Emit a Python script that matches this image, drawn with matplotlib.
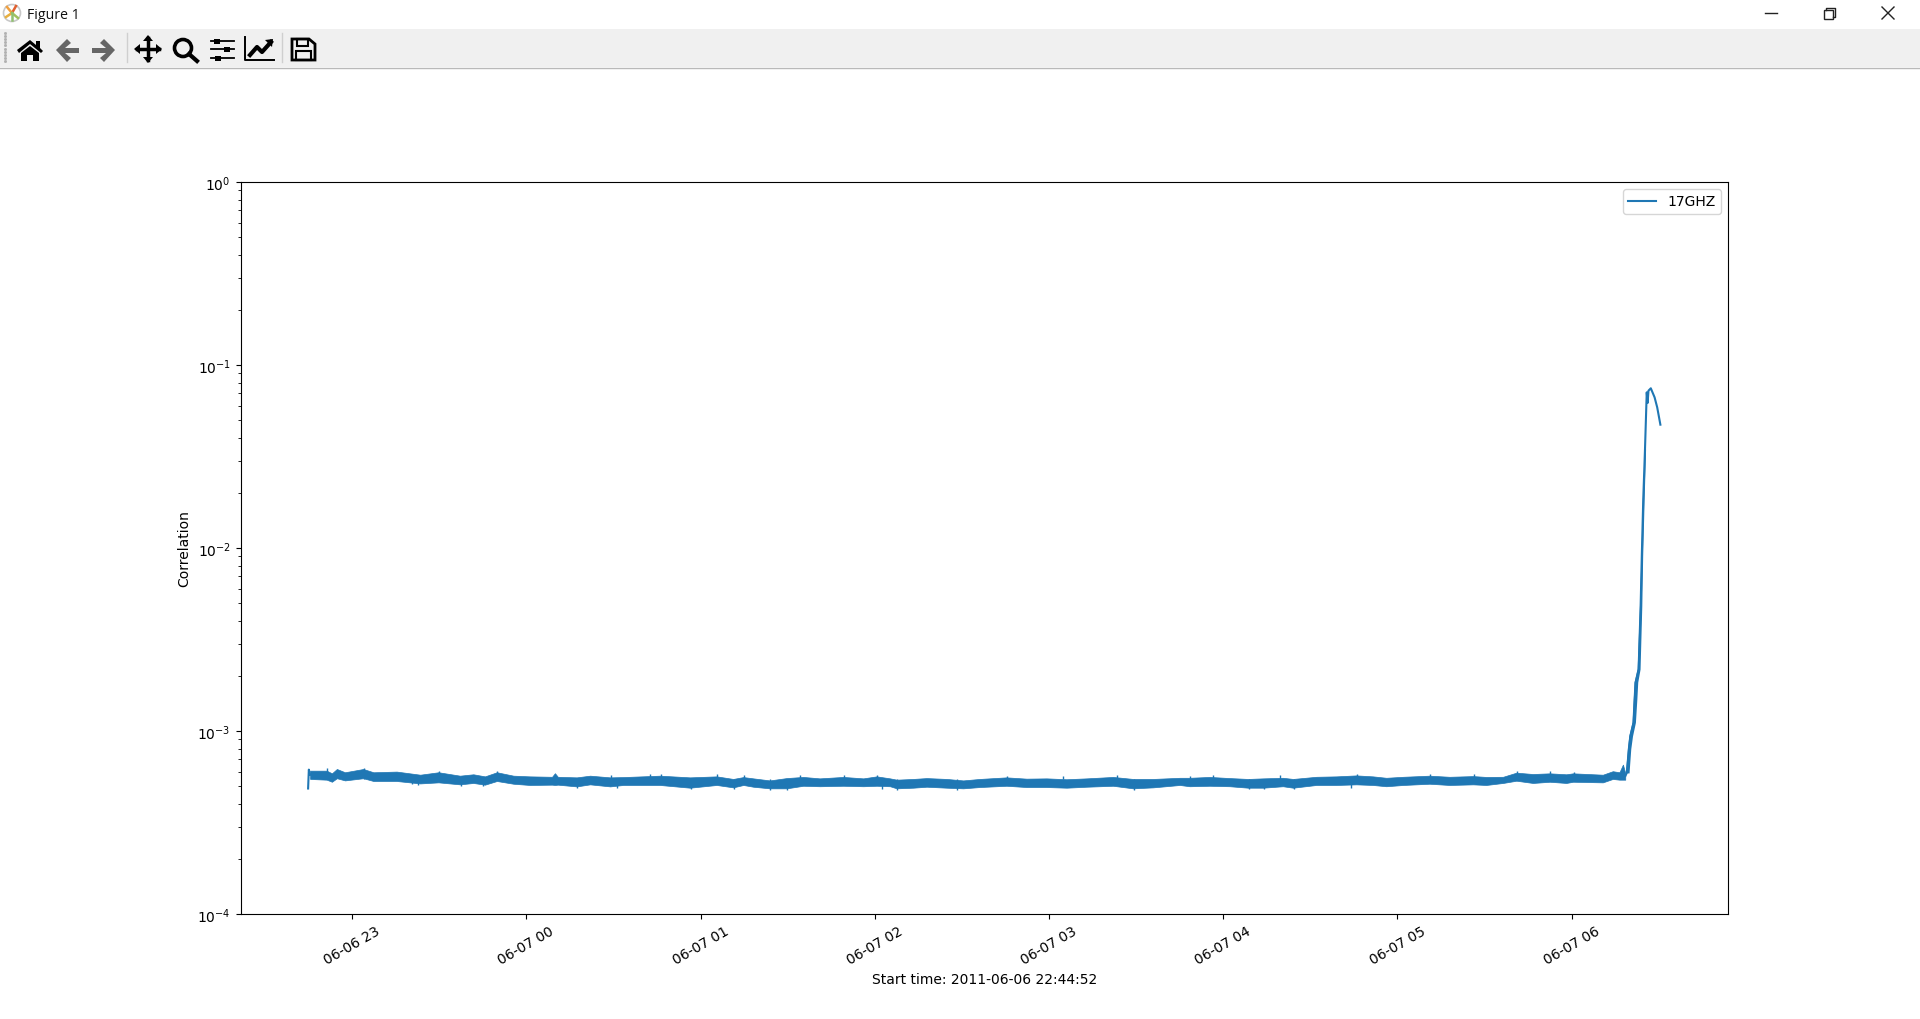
import numpy as np
import pandas as pd
import matplotlib
matplotlib.use('Agg')
import matplotlib.pyplot as plt
import matplotlib.dates as mdates
from matplotlib.patches import Polygon, Rectangle, Circle

start_time = pd.Timestamp('2011-06-06 22:44:52')

# flat part: minutes after start, upper and lower edge of the noisy band (x 1e-4)
band_min = [0.7, 6.4, 8.2, 9.9, 12.7, 19.0, 22.5, 30.5, 38.6, 44.9, 52.3, 56.9, 60.9, 65.0, 70.7,
            76.4, 84.0, 85.0, 86.0, 92.5, 97.1, 104.0, 108.5, 121.2, 131.5, 140.7,
            146.4, 149.9, 153.3, 159.0, 164.8, 170.5, 176.2, 184.3, 191.2, 195.8, 200.4,
            202.7, 208.4, 213.0, 219.9, 225.6, 231.3, 240.5, 247.4, 254.3, 261.2, 268.1,
            277.2, 284.1, 291.0, 300.2, 303.6, 310.5, 317.4, 323.7, 328.9, 335.7, 339.2,
            347.2, 354.1, 361.0, 366.7, 371.3, 377.1, 386.2, 393.1, 401.2, 405.7, 411.5,
            416.1, 421.8, 427.6, 433.3, 435.6, 445.9, 449.3, 451.6, 452.8, 453.6]
band_hi = [6.07, 6.07, 5.87, 6.20, 5.95, 6.20, 5.95, 6.00, 5.77, 5.95, 5.70, 5.80, 5.65, 5.95, 5.70,
           5.65, 5.62, 5.88, 5.62, 5.58, 5.70, 5.58, 5.60, 5.70, 5.58, 5.65,
           5.47, 5.60, 5.51, 5.37, 5.53, 5.61, 5.51, 5.61, 5.51, 5.65, 5.51,
           5.42, 5.47, 5.53, 5.47, 5.37, 5.47, 5.58, 5.49, 5.51, 5.45, 5.51,
           5.61, 5.47, 5.47, 5.55, 5.55, 5.61, 5.53, 5.47, 5.51, 5.55, 5.47,
           5.62, 5.65, 5.72, 5.65, 5.55, 5.62, 5.70, 5.62, 5.67, 5.61, 5.62,
           5.92, 5.82, 5.87, 5.80, 5.87, 5.77, 6.03, 5.95, 6.55, 5.90]
band_lo = [5.47, 5.42, 5.28, 5.52, 5.37, 5.52, 5.33, 5.33, 5.17, 5.24, 5.11, 5.20, 5.09, 5.33, 5.15,
           5.07, 5.09, 5.07, 5.09, 4.98, 5.11, 4.98, 5.07, 5.07, 4.90, 5.07,
           4.92, 5.07, 4.96, 4.86, 4.86, 5.02, 4.99, 5.02, 4.99, 5.02, 4.99,
           4.86, 4.90, 4.96, 4.90, 4.86, 4.94, 5.02, 4.94, 4.94, 4.90, 4.96,
           5.02, 4.86, 4.92, 5.07, 4.99, 5.02, 4.99, 4.90, 4.90, 4.99, 4.90,
           5.07, 5.07, 5.11, 5.07, 4.99, 5.07, 5.15, 5.07, 5.11, 5.07, 5.20,
           5.35, 5.20, 5.28, 5.20, 5.28, 5.24, 5.47, 5.42, 5.42, 5.42]

# small excursions sticking out of the band (x 1e-4)
spike_min = [6.6, 19.2, 35.7, 38.0, 45.1, 52.5, 60.3, 65.2, 92.7, 104.2, 106.3, 117.7, 121.4, 131.7, 140.9,
             146.6, 150.1, 159.2, 165.0, 169.4, 184.5, 196.0, 197.5, 202.9, 223.3, 240.7, 260.0, 278.4, 284.3,
             303.8, 311.6, 323.9, 329.1, 334.6, 339.4, 359.3, 361.2, 386.4, 401.4, 416.3, 427.8, 435.8]
spike_val = [6.25, 6.30, 5.12, 5.10, 6.08, 5.02, 5.02, 6.08, 4.89, 5.78, 4.91, 5.83, 5.83, 4.81, 5.83,
             4.81, 5.73, 4.77, 4.77, 5.72, 5.73, 5.78, 4.85, 4.77, 4.77, 5.70, 5.66, 5.73, 4.77,
             5.70, 5.73, 4.85, 4.81, 5.73, 4.81, 4.91, 5.85, 5.85, 5.83, 6.05, 6.03, 6.00]

# start of the trace and the rise at the end
head_min = [0.0, 0.25]
head_val = [4.85e-4, 6.15e-4]
rise_min = [454.2, 454.9, 455.4, 456.5, 457.2, 458.2, 458.9, 459.3, 459.8, 460.4, 461.0, 461.3, 461.6,
            462.4, 463.7, 464.6, 465.7]
rise_val = [5.94e-4, 7.97e-4, 9.42e-4, 1.115e-3, 1.845e-3, 2.18e-3, 4.84e-3, 9.08e-3, 1.85e-2, 3.47e-2,
            7.09e-2, 6.2e-2, 7.24e-2, 7.46e-2, 6.66e-2, 5.87e-2, 4.72e-2]

# left and right edge of the trace on the rise
edge_val = [5.9e-4, 8e-4, 9.4e-4, 1.115e-3, 1.5e-3, 1.85e-3, 2.18e-3, 4.84e-3, 9.08e-3, 1.85e-2, 3.47e-2]
edge_left = [453.6, 454.3, 454.8, 455.9, 456.3, 456.6, 457.7, 458.5, 459.0, 459.5, 460.2]
edge_right = [454.9, 455.5, 456.1, 457.1, 457.6, 457.9, 458.7, 459.3, 459.6, 460.1, 460.6]

tick_fmt = '%m-%d %H'
series_name = '17GHZ'
x_label = 'Start time: 2011-06-06 22:44:52'
y_label = 'Correlation'
line_color = '#1f77b4'


def to_time(minutes):
    return start_time + pd.to_timedelta(np.array(minutes, dtype=float), unit='min')


fig = plt.figure(figsize=(19.2, 10.2), dpi=100)
ax = fig.add_axes([240.5 / 1920, 105 / 1020, 1487.5 / 1920, 732 / 1020])

hi = np.array(band_hi) * 1e-4
lo = np.array(band_lo) * 1e-4
mid = np.sqrt(hi * lo)

line_min = np.concatenate([head_min, band_min, rise_min])
line_val = np.concatenate([head_val, mid, rise_val])

ax.plot(to_time(line_min), line_val, color=line_color, label=series_name)
ax.fill_between(to_time(band_min), lo, hi, color=line_color, lw=0.5)
ax.fill_betweenx(edge_val, to_time(edge_left), to_time(edge_right), color=line_color, lw=0)
# ticks from the middle of the band out to each excursion
ax.vlines(to_time(spike_min), 5.45e-4, np.array(spike_val) * 1e-4, color=line_color, lw=1.0)

ax.set_yscale('log')
ax.set_ylim(1e-4, 1)
ax.xaxis.set_major_locator(mdates.HourLocator())
ax.xaxis.set_major_formatter(mdates.DateFormatter(tick_fmt))
ax.tick_params(axis='x', labelrotation=30)
ax.set_xlabel(x_label)
ax.set_ylabel(y_label)
ax.legend(loc='upper right')

# window title bar and toolbar, drawn in pixel coordinates
ui = fig.add_axes([0, 0, 1, 1], facecolor='none')
ui.set_xlim(0, 1920)
ui.set_ylim(1020, 0)
ui.axis('off')

ui.add_patch(Rectangle((0, 30), 1920, 38, color='#f0f0f0', lw=0))
ui.plot([0, 1920], [68.5, 68.5], color='#b9b9b9', lw=1)
ui.text(27, 15.5, 'Figure 1', family='Open Sans', fontsize=10.2, va='center', color='#111111')

# app icon
ui.add_patch(Circle((12, 14), 8.5, fill=False, ec='#c8c8c8', lw=1.2))
for x2, y2, c in [(7, 8, '#f0a040'), (16, 7, '#e06030'), (6, 18, '#e8b040'), (18, 19, '#a0c060'), (12, 21, '#90c070')]:
    ui.plot([12, x2], [14, y2], color=c, lw=1.8)

# toolbar grip and separators
ui.plot([5] * 10, np.linspace(34, 62, 10), ls='none', marker='s', ms=1, color='#b0b0b0')
ui.plot([126.5, 126.5], [34, 63], color='#cfcfcf', lw=1)
ui.plot([281.5, 281.5], [34, 63], color='#cfcfcf', lw=1)

# home
ui.add_patch(Polygon([(17, 51), (30, 41), (36, 46), (36, 42), (40, 42), (40, 49), (43, 52), (41, 54),
                      (30, 45), (19, 54)], color='black', lw=0))
ui.add_patch(Polygon([(21, 54), (30, 47), (39, 54), (39, 62), (33, 62), (33, 56), (27, 56), (27, 62), (21, 62)],
                     color='black', lw=0))
# back / forward
ui.add_patch(Polygon([(56, 51), (67, 40), (71, 44), (65, 49), (79, 49), (79, 54), (65, 54), (71, 59), (67, 63)],
                     color='#666666', lw=0))
ui.add_patch(Polygon([(115, 51), (104, 40), (100, 44), (106, 49), (92, 49), (92, 54), (106, 54), (100, 59), (104, 63)],
                     color='#666666', lw=0))
# move
ui.plot([137, 159], [50, 50], color='black', lw=2.5)
ui.plot([148, 148], [39, 61], color='black', lw=2.5)
ui.add_patch(Polygon([(134, 50), (140, 45), (140, 55)], color='black', lw=0))
ui.add_patch(Polygon([(162, 50), (156, 45), (156, 55)], color='black', lw=0))
ui.add_patch(Polygon([(148, 36), (143, 42), (153, 42)], color='black', lw=0))
ui.add_patch(Polygon([(148, 64), (143, 58), (153, 58)], color='black', lw=0))
# zoom
ui.add_patch(Circle((183, 49), 8.5, fill=False, ec='black', lw=2.6))
ui.plot([189, 197], [55, 62], color='black', lw=3)
# sliders
for y, xk in [(42, 217), (50, 227), (59, 218)]:
    ui.plot([211, 234], [y, y], color='black', lw=1.3)
    ui.add_patch(Rectangle((xk - 3, y - 2.5), 6, 5, color='black', lw=0))
# axes edit
ui.plot([245, 245, 274], [38, 61, 61], color='black', lw=1.4)
ui.plot([250, 257, 262, 271], [56, 48, 53, 43], color='black', lw=3)
ui.add_patch(Polygon([(273, 40), (265, 41), (272, 48)], color='black', lw=0))
# save
ui.add_patch(Polygon([(292, 40), (309, 40), (315, 45), (315, 61), (292, 61)], fill=False, ec='black', lw=2))
ui.add_patch(Rectangle((297, 40), 11, 7, fill=False, ec='black', lw=1.5))
ui.add_patch(Rectangle((296, 52), 15, 9, fill=False, ec='black', lw=1.5))

# window buttons
ui.plot([1765, 1777], [13.5, 13.5], color='#222222', lw=1)
ui.add_patch(Rectangle((1823.5, 11), 9, 9, fill=False, ec='#222222', lw=1))
ui.plot([1826, 1826, 1835, 1835, 1833], [11, 8.5, 8.5, 17.5, 17.5], color='#222222', lw=1)
ui.plot([1882, 1894], [8, 20], color='#222222', lw=1)
ui.plot([1882, 1894], [20, 8], color='#222222', lw=1)

plt.savefig('out.png', dpi=100)
